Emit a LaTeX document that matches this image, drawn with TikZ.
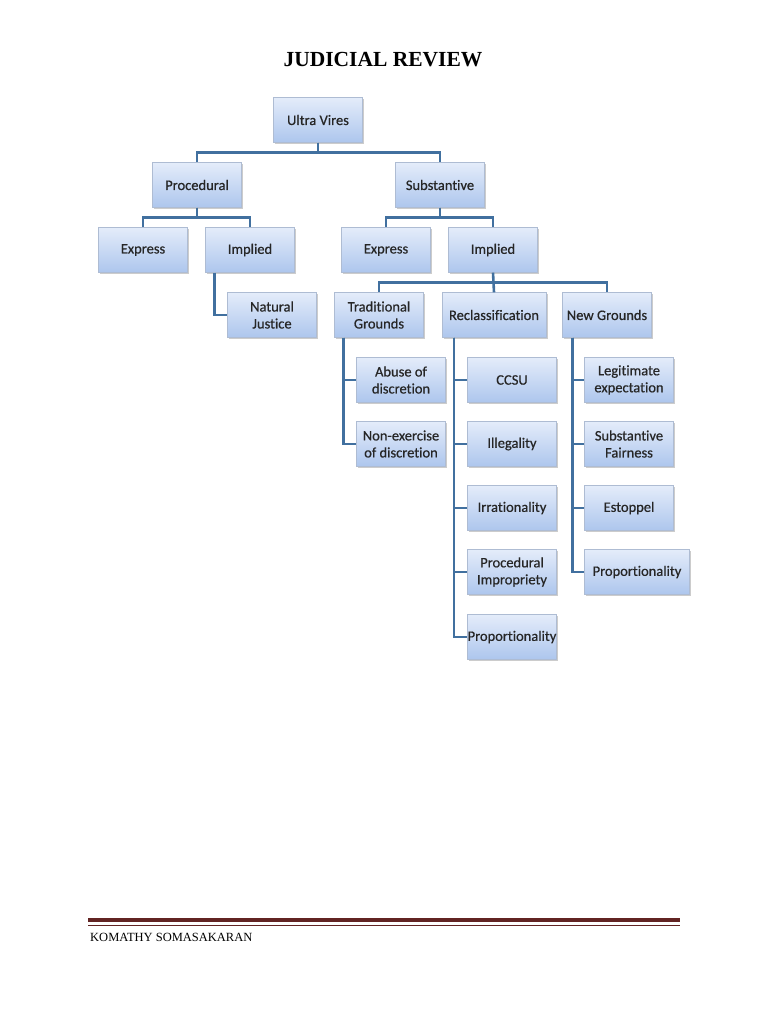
\documentclass[tikz,border=0pt]{standalone}
\usepackage{fontspec}
\setmainfont{Liberation Serif}
\newfontfamily\boxfont[Ligatures=NoCommon, FakeBold=0.6]{Carlito}
\usetikzlibrary{shadows}

\definecolor{linkblue}{HTML}{41709F}
\definecolor{boxtop}{HTML}{E4ECFA}
\definecolor{boxbot}{HTML}{ADC6ED}
\definecolor{boxline}{HTML}{AEBCD3}
\definecolor{rulered}{HTML}{622423}

\tikzset{
	box/.style={rectangle, draw=boxline, top color=boxtop, bottom color=boxbot,
		minimum width=89pt, minimum height=45pt, align=center, inner xsep=0pt, inner ysep=2pt,
		font=\boxfont\fontsize{14.5}{17}\selectfont, text=black!85,
		drop shadow={shadow xshift=1.5pt, shadow yshift=-1.5pt, opacity=.4}},
	link/.style={draw=linkblue, line width=2.6pt}
}

\begin{document}
\begin{tikzpicture}[x=1pt,y=-1pt]

	\useasboundingbox (0,0) rectangle (768,1024);
	\node[font=\bfseries\fontsize{21.5}{24}\selectfont] (title) at (383,60) {JUDICIAL REVIEW};

	\node[box] (uv) at (318,120) {Ultra Vires};
	\node[box] (proc) at (197,185) {Procedural};
	\node[box] (subst) at (440,185) {Substantive};
	\node[box] (pexp) at (143,250) {Express};
	\node[box] (pimp) at (250,250) {Implied};
	\node[box] (nj) at (272,315) {Natural\\Justice};
	\node[box] (sexp) at (386,250) {Express};
	\node[box] (simp) at (493,250) {Implied};
	\node[box] (trad) at (379,315) {Traditional\\Grounds};
	\node[box, minimum width=104pt] (recl) at (494,315) {Reclassification};
	\node[box] (newg) at (607,315) {New Grounds};
	\node[box] (abuse) at (401,380) {Abuse of\\discretion};
	\node[box] (nonex) at (401,444) {Non-exercise\\of discretion};
	\node[box] (ccsu) at (512,380) {CCSU};
	\node[box] (illeg) at (512,444) {Illegality};
	\node[box] (irrat) at (512,508) {Irrationality};
	\node[box] (impro) at (512,572) {Procedural\\Impropriety};
	\node[box] (rprop) at (512,637) {Proportionality};
	\node[box] (legit) at (629,380) {Legitimate\\expectation};
	\node[box] (fair) at (629,444) {Substantive\\Fairness};
	\node[box] (estop) at (629,508) {Estoppel};
	\node[box, minimum width=105pt] (nprop) at (637,572) {Proportionality};

	\draw[link] (uv.south) -- ++(0,10) -| (proc.north);
	\draw[link] (uv.south) -- ++(0,10) -| (subst.north);
	\draw[link] (proc.south) -- ++(0,10) -| (pexp.north);
	\draw[link] (proc.south) -- ++(0,10) -| (pimp.north);
	\draw[link] ([xshift=9pt]pimp.south west) |- (nj.west);
	\draw[link] (subst.south) -- ++(0,10) -| (sexp.north);
	\draw[link] (subst.south) -- ++(0,10) -| (simp.north);
	\draw[link] (simp.south) -- ++(0,10) -| (trad.north);
	\draw[link] (simp.south) -- (recl.north);
	\draw[link] (simp.south) -- ++(0,10) -| (newg.north);

	\foreach \n in {abuse,nonex}
		\draw[link] ([xshift=9pt]trad.south west) |- (\n.west);
	\foreach \n in {ccsu,illeg,irrat,impro,rprop}
		\draw[link] ([xshift=12pt]recl.south west) |- (\n.west);
	\foreach \n in {legit,fair,estop,nprop}
		\draw[link] ([xshift=10pt]newg.south west) |- (\n.west);

	\draw[rulered, line width=4pt] (88,920) -- (680,920);
	\draw[rulered, line width=1pt] (88,925.5) -- (680,925.5);
	\node[anchor=west, inner sep=0pt, font=\fontsize{12.5}{14}\selectfont] (author) at (90,937) {KOMATHY SOMASAKARAN};

\end{tikzpicture}
\end{document}
